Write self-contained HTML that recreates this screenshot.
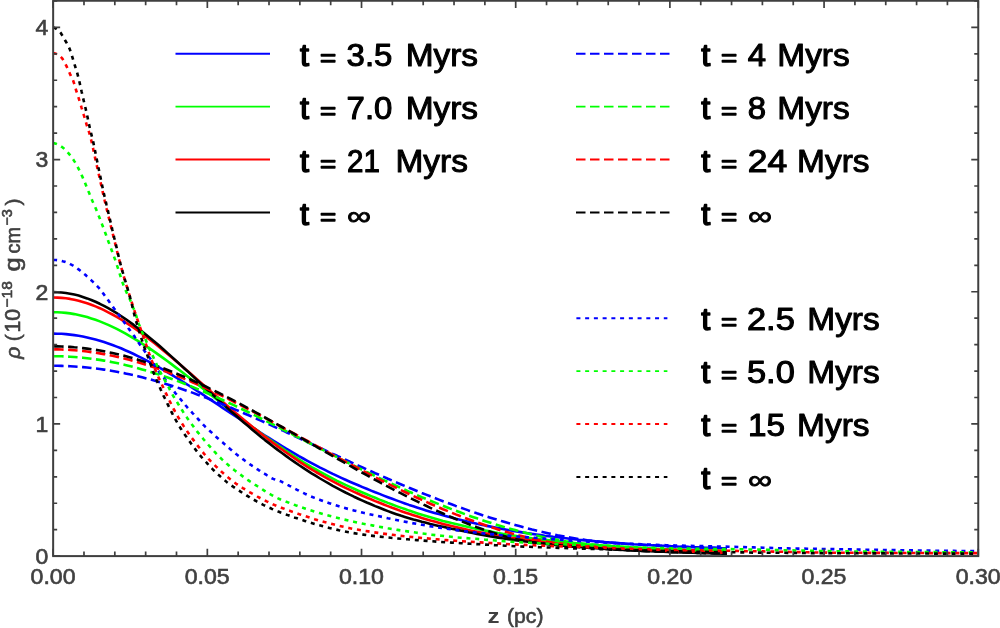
<!DOCTYPE html>
<html lang="en"><head><meta charset="utf-8"><title>Density profiles</title>
<style>html,body{margin:0;padding:0;background:#fff;}svg{display:block;}text{font-family:"Liberation Sans",sans-serif;}</style></head><body>
<svg width="1000" height="628" viewBox="0 0 1000 628">
<rect x="0" y="0" width="1000" height="628" fill="#ffffff"/>
<g fill="none" stroke-width="2.60" stroke-linejoin="round">
<path d="M53.1,333.6 L57.4,333.7 L61.6,333.8 L65.9,334.1 L70.1,334.6 L74.3,335.1 L78.6,335.8 L82.8,336.5 L87.1,337.4 L91.3,338.4 L95.5,339.5 L99.8,340.7 L104.0,342.1 L108.2,343.5 L112.5,345.0 L116.7,346.6 L121.0,348.3 L125.2,350.2 L129.4,352.0 L133.7,354.0 L137.9,356.1 L142.1,358.2 L146.4,360.4 L150.6,362.7 L154.9,365.0 L159.1,367.4 L163.3,369.8 L167.6,372.3 L171.8,374.9 L176.0,377.5 L180.3,380.1 L184.5,382.8 L188.8,385.5 L193.0,388.2 L197.2,391.0 L201.5,393.7 L205.7,396.5 L209.9,399.3 L214.2,402.1 L218.4,404.9 L222.7,407.8 L226.9,410.6 L231.1,413.4 L235.4,416.2 L239.6,419.0 L243.8,421.8 L248.1,424.6 L252.3,427.3 L256.6,430.1 L260.8,432.8 L265.0,435.5 L269.3,438.2 L273.5,440.8 L277.7,443.4 L282.0,446.0 L286.2,448.6 L290.5,451.1 L294.7,453.6 L298.9,456.1 L303.2,458.5 L307.4,460.8 L311.6,463.1 L315.9,465.4 L320.1,467.6 L324.4,469.7 L328.6,471.8 L332.8,473.9 L337.1,475.9 L341.3,477.9 L345.5,479.8 L349.8,481.7 L354.0,483.5 L358.3,485.3 L362.5,487.1 L366.7,488.8 L371.0,490.6 L375.2,492.3 L379.5,493.9 L383.7,495.6 L387.9,497.2 L392.2,498.8 L396.4,500.4 L400.6,501.9 L404.9,503.4 L409.1,504.9 L413.4,506.3 L417.6,507.7 L421.8,509.0 L426.1,510.4 L430.3,511.7 L434.5,512.9 L438.8,514.1 L443.0,515.3 L447.3,516.5 L451.5,517.6 L455.7,518.7 L460.0,519.8 L464.2,520.8 L468.4,521.8 L472.7,522.8 L476.9,523.8 L481.2,524.7 L485.4,525.6 L489.6,526.4 L493.9,527.3 L498.1,528.1 L502.3,528.9 L506.6,529.7 L510.8,530.4 L515.1,531.2 L519.3,531.9 L523.5,532.6 L527.8,533.2 L532.0,533.9 L536.2,534.5 L540.5,535.1 L544.7,535.7 L549.0,536.2 L553.2,536.8 L557.4,537.3 L561.7,537.8 L565.9,538.3 L570.1,538.8 L574.4,539.2 L578.6,539.7 L582.9,540.1 L587.1,540.5 L591.3,540.9 L595.6,541.3 L599.8,541.7 L604.0,542.1 L608.3,542.4 L612.5,542.8 L616.8,543.1 L621.0,543.4 L625.2,543.7 L629.5,544.0 L633.7,544.3 L637.9,544.5 L642.2,544.8 L646.4,545.0 L650.7,545.3 L654.9,545.5 L659.1,545.7 L663.4,545.9 L667.6,546.1 L671.8,546.3 L676.1,546.5 L680.3,546.7 L684.6,546.9 L688.8,547.1 L693.0,547.2 L697.3,547.4 L701.5,547.5 L705.8,547.7 L710.0,547.8 L714.2,547.9 L718.5,548.0 L722.7,548.2 L726.9,548.3" stroke="#0000ff"/>
<path d="M53.1,312.2 L57.4,312.3 L61.6,312.5 L65.9,312.9 L70.1,313.4 L74.3,314.1 L78.6,315.0 L82.8,316.0 L87.1,317.1 L91.3,318.4 L95.5,319.8 L99.8,321.4 L104.0,323.1 L108.2,324.9 L112.5,326.9 L116.7,328.9 L121.0,331.1 L125.2,333.4 L129.4,335.8 L133.7,338.3 L137.9,340.9 L142.1,343.6 L146.4,346.4 L150.6,349.2 L154.9,352.1 L159.1,355.1 L163.3,358.1 L167.6,361.2 L171.8,364.4 L176.0,367.6 L180.3,370.8 L184.5,374.1 L188.8,377.4 L193.0,380.7 L197.2,384.0 L201.5,387.4 L205.7,390.7 L209.9,394.1 L214.2,397.4 L218.4,400.8 L222.7,404.1 L226.9,407.4 L231.1,410.8 L235.4,414.0 L239.6,417.3 L243.8,420.6 L248.1,423.8 L252.3,427.0 L256.6,430.1 L260.8,433.2 L265.0,436.3 L269.3,439.3 L273.5,442.3 L277.7,445.3 L282.0,448.2 L286.2,451.0 L290.5,453.8 L294.7,456.6 L298.9,459.3 L303.2,462.0 L307.4,464.5 L311.6,467.1 L315.9,469.5 L320.1,471.9 L324.4,474.2 L328.6,476.4 L332.8,478.6 L337.1,480.8 L341.3,482.8 L345.5,484.9 L349.8,486.9 L354.0,488.8 L358.3,490.7 L362.5,492.5 L366.7,494.3 L371.0,496.1 L375.2,497.8 L379.5,499.6 L383.7,501.2 L387.9,502.9 L392.2,504.5 L396.4,506.1 L400.6,507.6 L404.9,509.1 L409.1,510.6 L413.4,512.0 L417.6,513.4 L421.8,514.7 L426.1,516.0 L430.3,517.3 L434.5,518.5 L438.8,519.7 L443.0,520.9 L447.3,522.0 L451.5,523.1 L455.7,524.1 L460.0,525.1 L464.2,526.1 L468.4,527.1 L472.7,528.0 L476.9,528.9 L481.2,529.8 L485.4,530.6 L489.6,531.4 L493.9,532.2 L498.1,533.0 L502.3,533.7 L506.6,534.5 L510.8,535.1 L515.1,535.8 L519.3,536.5 L523.5,537.1 L527.8,537.7 L532.0,538.3 L536.2,538.8 L540.5,539.4 L544.7,539.9 L549.0,540.4 L553.2,540.9 L557.4,541.4 L561.7,541.8 L565.9,542.3 L570.1,542.7 L574.4,543.1 L578.6,543.5 L582.9,543.9 L587.1,544.3 L591.3,544.6 L595.6,545.0 L599.8,545.3 L604.0,545.6 L608.3,545.9 L612.5,546.2 L616.8,546.5 L621.0,546.8 L625.2,547.1 L629.5,547.3 L633.7,547.6 L637.9,547.8 L642.2,548.0 L646.4,548.3 L650.7,548.5 L654.9,548.7 L659.1,548.9 L663.4,549.1 L667.6,549.2 L671.8,549.4 L676.1,549.6 L680.3,549.7 L684.6,549.9 L688.8,550.0 L693.0,550.2 L697.3,550.3 L701.5,550.5 L705.8,550.6 L710.0,550.7 L714.2,550.8 L718.5,550.9 L722.7,551.0 L726.9,551.1" stroke="#00ff00"/>
<path d="M53.1,297.5 L57.4,297.6 L61.6,297.9 L65.9,298.3 L70.1,298.9 L74.3,299.8 L78.6,300.7 L82.8,301.9 L87.1,303.2 L91.3,304.7 L95.5,306.4 L99.8,308.2 L104.0,310.2 L108.2,312.3 L112.5,314.5 L116.7,316.9 L121.0,319.4 L125.2,322.1 L129.4,324.8 L133.7,327.7 L137.9,330.7 L142.1,333.8 L146.4,336.9 L150.6,340.2 L154.9,343.5 L159.1,346.9 L163.3,350.4 L167.6,353.9 L171.8,357.4 L176.0,361.0 L180.3,364.7 L184.5,368.4 L188.8,372.1 L193.0,375.8 L197.2,379.5 L201.5,383.2 L205.7,387.0 L209.9,390.7 L214.2,394.4 L218.4,398.1 L222.7,401.8 L226.9,405.4 L231.1,409.1 L235.4,412.7 L239.6,416.3 L243.8,419.8 L248.1,423.3 L252.3,426.7 L256.6,430.1 L260.8,433.5 L265.0,436.8 L269.3,440.1 L273.5,443.3 L277.7,446.4 L282.0,449.5 L286.2,452.5 L290.5,455.5 L294.7,458.4 L298.9,461.3 L303.2,464.1 L307.4,466.8 L311.6,469.4 L315.9,472.0 L320.1,474.4 L324.4,476.8 L328.6,479.2 L332.8,481.4 L337.1,483.6 L341.3,485.8 L345.5,487.9 L349.8,489.9 L354.0,491.9 L358.3,493.8 L362.5,495.7 L366.7,497.5 L371.0,499.3 L375.2,501.1 L379.5,502.8 L383.7,504.5 L387.9,506.1 L392.2,507.8 L396.4,509.3 L400.6,510.9 L404.9,512.4 L409.1,513.8 L413.4,515.2 L417.6,516.6 L421.8,517.9 L426.1,519.2 L430.3,520.4 L434.5,521.6 L438.8,522.8 L443.0,523.9 L447.3,525.0 L451.5,526.1 L455.7,527.1 L460.0,528.1 L464.2,529.0 L468.4,530.0 L472.7,530.9 L476.9,531.7 L481.2,532.6 L485.4,533.4 L489.6,534.1 L493.9,534.9 L498.1,535.6 L502.3,536.3 L506.6,537.0 L510.8,537.7 L515.1,538.3 L519.3,538.9 L523.5,539.5 L527.8,540.1 L532.0,540.6 L536.2,541.2 L540.5,541.7 L544.7,542.2 L549.0,542.6 L553.2,543.1 L557.4,543.6 L561.7,544.0 L565.9,544.4 L570.1,544.8 L574.4,545.2 L578.6,545.6 L582.9,545.9 L587.1,546.3 L591.3,546.6 L595.6,546.9 L599.8,547.2 L604.0,547.5 L608.3,547.8 L612.5,548.1 L616.8,548.3 L621.0,548.6 L625.2,548.8 L629.5,549.1 L633.7,549.3 L637.9,549.5 L642.2,549.8 L646.4,550.0 L650.7,550.2 L654.9,550.3 L659.1,550.5 L663.4,550.7 L667.6,550.9 L671.8,551.0 L676.1,551.2 L680.3,551.3 L684.6,551.5 L688.8,551.6 L693.0,551.8 L697.3,551.9 L701.5,552.0 L705.8,552.1 L710.0,552.3 L714.2,552.4 L718.5,552.5 L722.7,552.6 L726.9,552.7" stroke="#ff0000"/>
<path d="M53.1,292.1 L57.4,292.2 L61.6,292.5 L65.9,293.0 L70.1,293.7 L74.3,294.6 L78.6,295.6 L82.8,296.9 L87.1,298.4 L91.3,300.0 L95.5,301.8 L99.8,303.8 L104.0,305.9 L108.2,308.2 L112.5,310.6 L116.7,313.2 L121.0,316.0 L125.2,318.8 L129.4,321.8 L133.7,324.9 L137.9,328.2 L142.1,331.5 L146.4,334.9 L150.6,338.4 L154.9,342.0 L159.1,345.6 L163.3,349.3 L167.6,353.1 L171.8,356.9 L176.0,360.7 L180.3,364.6 L184.5,368.5 L188.8,372.4 L193.0,376.4 L197.2,380.3 L201.5,384.2 L205.7,388.2 L209.9,392.1 L214.2,396.0 L218.4,399.9 L222.7,403.8 L226.9,407.6 L231.1,411.4 L235.4,415.1 L239.6,418.8 L243.8,422.5 L248.1,426.1 L252.3,429.7 L256.6,433.2 L260.8,436.7 L265.0,440.1 L269.3,443.4 L273.5,446.7 L277.7,449.9 L282.0,453.0 L286.2,456.1 L290.5,459.2 L294.7,462.1 L298.9,465.0 L303.2,467.8 L307.4,470.6 L311.6,473.3 L315.9,475.9 L320.1,478.5 L324.4,481.0 L328.6,483.4 L332.8,485.8 L337.1,488.1 L341.3,490.3 L345.5,492.5 L349.8,494.6 L354.0,496.7 L358.3,498.7 L362.5,500.6 L366.7,502.5 L371.0,504.3 L375.2,506.1 L379.5,507.8 L383.7,509.5 L387.9,511.1 L392.2,512.7 L396.4,514.2 L400.6,515.6 L404.9,516.9 L409.1,518.2 L413.4,519.5 L417.6,520.6 L421.8,521.8 L426.1,522.8 L430.3,523.9 L434.5,524.9 L438.8,525.9 L443.0,526.8 L447.3,527.7 L451.5,528.7 L455.7,529.6 L460.0,530.4 L464.2,531.3 L468.4,532.2 L472.7,533.0 L476.9,533.9 L481.2,534.7 L485.4,535.4 L489.6,536.2 L493.9,536.9 L498.1,537.6 L502.3,538.3 L506.6,538.9 L510.8,539.5 L515.1,540.1 L519.3,540.7 L523.5,541.3 L527.8,541.8 L532.0,542.3 L536.2,542.8 L540.5,543.3 L544.7,543.8 L549.0,544.2 L553.2,544.7 L557.4,545.1 L561.7,545.5 L565.9,545.9 L570.1,546.3 L574.4,546.6 L578.6,547.0 L582.9,547.3 L587.1,547.6 L591.3,547.9 L595.6,548.2 L599.8,548.5 L604.0,548.8 L608.3,549.1 L612.5,549.3 L616.8,549.6 L621.0,549.8 L625.2,550.1 L629.5,550.3 L633.7,550.5 L637.9,550.7 L642.2,550.9 L646.4,551.1 L650.7,551.3 L654.9,551.5 L659.1,551.6 L663.4,551.8 L667.6,552.0 L671.8,552.1 L676.1,552.3 L680.3,552.4 L684.6,552.5 L688.8,552.7 L693.0,552.8 L697.3,552.9 L701.5,553.0 L705.8,553.2 L710.0,553.3 L714.2,553.4 L718.5,553.5 L722.7,553.6 L726.9,553.7" stroke="#000000"/>
<path d="M53.1,365.8 L57.4,365.8 L61.6,365.9 L65.9,366.0 L70.1,366.2 L74.3,366.5 L78.6,366.8 L82.8,367.1 L87.1,367.5 L91.3,368.0 L95.5,368.5 L99.8,369.0 L104.0,369.6 L108.2,370.3 L112.5,371.0 L116.7,371.7 L121.0,372.6 L125.2,373.4 L129.4,374.3 L133.7,375.2 L137.9,376.2 L142.1,377.3 L146.4,378.4 L150.6,379.5 L154.9,380.7 L159.1,381.9 L163.3,383.1 L167.6,384.4 L171.8,385.7 L176.0,387.1 L180.3,388.5 L184.5,389.9 L188.8,391.4 L193.0,392.9 L197.2,394.5 L201.5,396.0 L205.7,397.6 L209.9,399.3 L214.2,400.9 L218.4,402.6 L222.7,404.3 L226.9,406.0 L231.1,407.8 L235.4,409.6 L239.6,411.4 L243.8,413.2 L248.1,415.0 L252.3,416.9 L256.6,418.7 L260.8,420.6 L265.0,422.5 L269.3,424.4 L273.5,426.4 L277.7,428.3 L282.0,430.2 L286.2,432.2 L290.5,434.1 L294.7,436.1 L298.9,438.1 L303.2,440.0 L307.4,442.0 L311.6,444.0 L315.9,446.0 L320.1,447.9 L324.4,449.9 L328.6,451.9 L332.8,453.9 L337.1,455.8 L341.3,457.8 L345.5,459.7 L349.8,461.7 L354.0,463.6 L358.3,465.6 L362.5,467.5 L366.7,469.4 L371.0,471.3 L375.2,473.2 L379.5,475.0 L383.7,476.9 L387.9,478.8 L392.2,480.6 L396.4,482.4 L400.6,484.2 L404.9,486.0 L409.1,487.8 L413.4,489.5 L417.6,491.3 L421.8,493.0 L426.1,494.6 L430.3,496.3 L434.5,497.9 L438.8,499.6 L443.0,501.2 L447.3,502.8 L451.5,504.3 L455.7,505.9 L460.0,507.4 L464.2,508.9 L468.4,510.4 L472.7,511.8 L476.9,513.3 L481.2,514.7 L485.4,516.1 L489.6,517.4 L493.9,518.7 L498.1,520.0 L502.3,521.3 L506.6,522.6 L510.8,523.8 L515.1,525.0 L519.3,526.1 L523.5,527.3 L527.8,528.4 L532.0,529.5 L536.2,530.5 L540.5,531.5 L544.7,532.5 L549.0,533.5 L553.2,534.4 L557.4,535.3 L561.7,536.1 L565.9,536.9 L570.1,537.6 L574.4,538.3 L578.6,539.0 L582.9,539.6 L587.1,540.2 L591.3,540.7 L595.6,541.1 L599.8,541.6 L604.0,542.0 L608.3,542.4 L612.5,542.7 L616.8,543.1 L621.0,543.4 L625.2,543.7 L629.5,544.0 L633.7,544.3 L637.9,544.5 L642.2,544.8 L646.4,545.0 L650.7,545.3 L654.9,545.5 L659.1,545.7 L663.4,545.9 L667.6,546.1 L671.8,546.3 L676.1,546.5 L680.3,546.7 L684.6,546.9 L688.8,547.1 L693.0,547.2 L697.3,547.4 L701.5,547.5 L705.8,547.7 L710.0,547.8 L714.2,547.9 L718.5,548.0 L722.7,548.2 L726.9,548.3" stroke="#0000ff" stroke-dasharray="9.5 4.5" stroke-dashoffset="-1"/>
<path d="M53.1,356.2 L57.4,356.2 L61.6,356.3 L65.9,356.5 L70.1,356.7 L74.3,357.0 L78.6,357.3 L82.8,357.7 L87.1,358.2 L91.3,358.7 L95.5,359.3 L99.8,359.9 L104.0,360.6 L108.2,361.3 L112.5,362.2 L116.7,363.0 L121.0,363.9 L125.2,364.9 L129.4,365.9 L133.7,367.0 L137.9,368.2 L142.1,369.4 L146.4,370.6 L150.6,371.9 L154.9,373.2 L159.1,374.6 L163.3,376.0 L167.6,377.5 L171.8,379.0 L176.0,380.5 L180.3,382.1 L184.5,383.8 L188.8,385.4 L193.0,387.1 L197.2,388.9 L201.5,390.7 L205.7,392.5 L209.9,394.3 L214.2,396.2 L218.4,398.1 L222.7,400.0 L226.9,402.0 L231.1,403.9 L235.4,405.9 L239.6,408.0 L243.8,410.0 L248.1,412.0 L252.3,414.1 L256.6,416.2 L260.8,418.3 L265.0,420.4 L269.3,422.6 L273.5,424.7 L277.7,426.9 L282.0,429.0 L286.2,431.2 L290.5,433.3 L294.7,435.5 L298.9,437.7 L303.2,439.9 L307.4,442.1 L311.6,444.2 L315.9,446.4 L320.1,448.6 L324.4,450.7 L328.6,452.9 L332.8,455.1 L337.1,457.2 L341.3,459.3 L345.5,461.5 L349.8,463.6 L354.0,465.7 L358.3,467.8 L362.5,469.9 L366.7,472.0 L371.0,474.0 L375.2,476.0 L379.5,478.1 L383.7,480.1 L387.9,482.0 L392.2,484.0 L396.4,486.0 L400.6,487.9 L404.9,489.8 L409.1,491.7 L413.4,493.5 L417.6,495.4 L421.8,497.2 L426.1,498.9 L430.3,500.7 L434.5,502.4 L438.8,504.1 L443.0,505.8 L447.3,507.5 L451.5,509.1 L455.7,510.7 L460.0,512.3 L464.2,513.9 L468.4,515.4 L472.7,516.9 L476.9,518.3 L481.2,519.8 L485.4,521.2 L489.6,522.5 L493.9,523.9 L498.1,525.2 L502.3,526.4 L506.6,527.7 L510.8,528.9 L515.1,530.1 L519.3,531.2 L523.5,532.3 L527.8,533.4 L532.0,534.5 L536.2,535.5 L540.5,536.4 L544.7,537.4 L549.0,538.3 L553.2,539.1 L557.4,539.9 L561.7,540.7 L565.9,541.4 L570.1,542.0 L574.4,542.6 L578.6,543.2 L582.9,543.7 L587.1,544.1 L591.3,544.5 L595.6,544.9 L599.8,545.3 L604.0,545.6 L608.3,545.9 L612.5,546.2 L616.8,546.5 L621.0,546.8 L625.2,547.1 L629.5,547.3 L633.7,547.6 L637.9,547.8 L642.2,548.0 L646.4,548.3 L650.7,548.5 L654.9,548.7 L659.1,548.9 L663.4,549.1 L667.6,549.2 L671.8,549.4 L676.1,549.6 L680.3,549.7 L684.6,549.9 L688.8,550.0 L693.0,550.2 L697.3,550.3 L701.5,550.5 L705.8,550.6 L710.0,550.7 L714.2,550.8 L718.5,550.9 L722.7,551.0 L726.9,551.1" stroke="#00ff00" stroke-dasharray="9.5 4.5" stroke-dashoffset="-1"/>
<path d="M53.1,349.4 L57.4,349.4 L61.6,349.5 L65.9,349.7 L70.1,349.9 L74.3,350.2 L78.6,350.6 L82.8,351.0 L87.1,351.5 L91.3,352.1 L95.5,352.7 L99.8,353.4 L104.0,354.1 L108.2,354.9 L112.5,355.8 L116.7,356.7 L121.0,357.7 L125.2,358.7 L129.4,359.8 L133.7,361.0 L137.9,362.2 L142.1,363.5 L146.4,364.8 L150.6,366.2 L154.9,367.6 L159.1,369.1 L163.3,370.6 L167.6,372.1 L171.8,373.8 L176.0,375.4 L180.3,377.1 L184.5,378.9 L188.8,380.6 L193.0,382.5 L197.2,384.3 L201.5,386.2 L205.7,388.1 L209.9,390.1 L214.2,392.1 L218.4,394.1 L222.7,396.2 L226.9,398.2 L231.1,400.3 L235.4,402.5 L239.6,404.6 L243.8,406.8 L248.1,409.0 L252.3,411.2 L256.6,413.4 L260.8,415.7 L265.0,417.9 L269.3,420.2 L273.5,422.5 L277.7,424.8 L282.0,427.1 L286.2,429.4 L290.5,431.7 L294.7,434.0 L298.9,436.3 L303.2,438.6 L307.4,441.0 L311.6,443.3 L315.9,445.6 L320.1,447.9 L324.4,450.2 L328.6,452.6 L332.8,454.9 L337.1,457.2 L341.3,459.4 L345.5,461.7 L349.8,464.0 L354.0,466.2 L358.3,468.5 L362.5,470.7 L366.7,472.9 L371.0,475.1 L375.2,477.3 L379.5,479.5 L383.7,481.6 L387.9,483.7 L392.2,485.8 L396.4,487.9 L400.6,490.0 L404.9,492.0 L409.1,494.0 L413.4,496.0 L417.6,498.0 L421.8,499.9 L426.1,501.8 L430.3,503.7 L434.5,505.5 L438.8,507.4 L443.0,509.2 L447.3,510.9 L451.5,512.7 L455.7,514.4 L460.0,516.0 L464.2,517.7 L468.4,519.3 L472.7,520.8 L476.9,522.4 L481.2,523.8 L485.4,525.3 L489.6,526.7 L493.9,528.1 L498.1,529.4 L502.3,530.8 L506.6,532.0 L510.8,533.2 L515.1,534.4 L519.3,535.6 L523.5,536.6 L527.8,537.7 L532.0,538.7 L536.2,539.6 L540.5,540.5 L544.7,541.3 L549.0,542.0 L553.2,542.7 L557.4,543.3 L561.7,543.8 L565.9,544.3 L570.1,544.7 L574.4,545.1 L578.6,545.5 L582.9,545.9 L587.1,546.3 L591.3,546.6 L595.6,546.9 L599.8,547.2 L604.0,547.5 L608.3,547.8 L612.5,548.1 L616.8,548.3 L621.0,548.6 L625.2,548.8 L629.5,549.1 L633.7,549.3 L637.9,549.5 L642.2,549.8 L646.4,550.0 L650.7,550.2 L654.9,550.3 L659.1,550.5 L663.4,550.7 L667.6,550.9 L671.8,551.0 L676.1,551.2 L680.3,551.3 L684.6,551.5 L688.8,551.6 L693.0,551.8 L697.3,551.9 L701.5,552.0 L705.8,552.1 L710.0,552.3 L714.2,552.4 L718.5,552.5 L722.7,552.6 L726.9,552.7" stroke="#ff0000" stroke-dasharray="9.5 4.5" stroke-dashoffset="-1"/>
<path d="M53.1,346.4 L57.4,346.4 L61.6,346.5 L65.9,346.7 L70.1,346.9 L74.3,347.3 L78.6,347.6 L82.8,348.1 L87.1,348.6 L91.3,349.2 L95.5,349.8 L99.8,350.5 L104.0,351.3 L108.2,352.1 L112.5,353.0 L116.7,354.0 L121.0,355.0 L125.2,356.1 L129.4,357.2 L133.7,358.4 L137.9,359.7 L142.1,361.0 L146.4,362.3 L150.6,363.8 L154.9,365.2 L159.1,366.8 L163.3,368.3 L167.6,370.0 L171.8,371.6 L176.0,373.4 L180.3,375.1 L184.5,376.9 L188.8,378.8 L193.0,380.7 L197.2,382.6 L201.5,384.5 L205.7,386.5 L209.9,388.6 L214.2,390.6 L218.4,392.7 L222.7,394.9 L226.9,397.0 L231.1,399.2 L235.4,401.4 L239.6,403.6 L243.8,405.9 L248.1,408.2 L252.3,410.5 L256.6,412.8 L260.8,415.1 L265.0,417.5 L269.3,419.8 L273.5,422.2 L277.7,424.6 L282.0,427.0 L286.2,429.4 L290.5,431.8 L294.7,434.2 L298.9,436.7 L303.2,439.1 L307.4,441.5 L311.6,444.0 L315.9,446.4 L320.1,448.8 L324.4,451.3 L328.6,453.7 L332.8,456.1 L337.1,458.5 L341.3,460.9 L345.5,463.3 L349.8,465.7 L354.0,468.1 L358.3,470.5 L362.5,472.8 L366.7,475.2 L371.0,477.5 L375.2,479.8 L379.5,482.1 L383.7,484.4 L387.9,486.6 L392.2,488.8 L396.4,491.1 L400.6,493.2 L404.9,495.4 L409.1,497.5 L413.4,499.6 L417.6,501.7 L421.8,503.8 L426.1,505.8 L430.3,507.8 L434.5,509.7 L438.8,511.6 L443.0,513.5 L447.3,515.4 L451.5,517.2 L455.7,519.0 L460.0,520.7 L464.2,522.4 L468.4,524.0 L472.7,525.6 L476.9,527.2 L481.2,528.7 L485.4,530.2 L489.6,531.6 L493.9,533.0 L498.1,534.3 L502.3,535.5 L506.6,536.7 L510.8,537.8 L515.1,538.9 L519.3,539.8 L523.5,540.7 L527.8,541.4 L532.0,542.1 L536.2,542.7 L540.5,543.2 L544.7,543.7 L549.0,544.2 L553.2,544.7 L557.4,545.1 L561.7,545.5 L565.9,545.9 L570.1,546.3 L574.4,546.6 L578.6,547.0 L582.9,547.3 L587.1,547.6 L591.3,547.9 L595.6,548.2 L599.8,548.5 L604.0,548.8 L608.3,549.1 L612.5,549.3 L616.8,549.6 L621.0,549.8 L625.2,550.1 L629.5,550.3 L633.7,550.5 L637.9,550.7 L642.2,550.9 L646.4,551.1 L650.7,551.3 L654.9,551.5 L659.1,551.6 L663.4,551.8 L667.6,552.0 L671.8,552.1 L676.1,552.3 L680.3,552.4 L684.6,552.5 L688.8,552.7 L693.0,552.8 L697.3,552.9 L701.5,553.0 L705.8,553.2 L710.0,553.3 L714.2,553.4 L718.5,553.5 L722.7,553.6 L726.9,553.7" stroke="#000000" stroke-dasharray="9.5 4.5" stroke-dashoffset="-1"/>
<path d="M53.1,260.0 L54.1,260.0 L55.1,260.0 L56.0,260.0 L57.0,260.1 L57.9,260.2 L58.9,260.3 L59.8,260.5 L60.8,260.7 L61.7,260.9 L62.7,261.2 L63.6,261.4 L64.6,261.7 L65.5,262.0 L66.5,262.4 L67.4,262.8 L68.4,263.2 L69.4,263.7 L70.3,264.2 L71.3,264.7 L72.2,265.2 L73.2,265.7 L74.1,266.3 L75.1,266.9 L76.0,267.6 L77.0,268.2 L77.9,268.9 L78.9,269.6 L79.8,270.3 L80.8,271.1 L81.7,271.8 L82.7,272.6 L83.6,273.4 L84.6,274.2 L85.6,275.0 L86.5,275.9 L87.5,276.7 L88.4,277.6 L89.4,278.5 L90.3,279.4 L91.3,280.3 L92.2,281.2 L93.2,282.2 L94.1,283.1 L95.1,284.0 L96.0,284.9 L97.0,285.9 L97.9,286.9 L98.9,287.9 L99.9,289.1 L100.8,290.3 L101.8,291.5 L102.7,292.8 L103.7,294.1 L104.6,295.4 L105.6,296.7 L106.5,298.0 L107.5,299.3 L108.4,300.6 L109.4,302.0 L110.3,303.3 L111.3,304.6 L112.2,305.9 L113.2,307.3 L114.1,308.6 L115.1,309.9 L116.1,311.2 L117.0,312.6 L118.0,313.9 L118.9,315.2 L119.9,316.5 L120.8,317.7 L121.8,319.0 L122.7,320.3 L123.7,321.6 L124.6,322.9 L125.6,324.2 L126.5,325.6 L127.5,326.9 L128.4,328.3 L129.4,329.6 L130.4,330.9 L131.3,332.2 L132.3,333.5 L133.2,334.7 L134.2,336.0 L135.1,337.4 L136.1,338.8 L137.0,340.3 L138.0,341.7 L138.9,343.2 L139.9,344.5 L140.8,345.9 L141.8,347.2 L142.7,348.5 L143.7,349.8 L144.6,351.1 L145.6,352.3 L146.6,353.6 L147.5,354.8 L148.5,356.1 L149.4,357.5 L150.4,358.8 L151.3,360.2 L152.3,361.6 L153.2,363.1 L154.2,364.5 L155.1,366.0 L156.1,367.4 L157.0,368.8 L158.0,370.2 L158.9,371.5 L159.9,372.9 L160.8,374.1 L161.8,375.4 L162.8,376.6 L163.7,377.7 L164.7,378.9 L165.6,380.1 L166.6,381.4 L167.5,382.6 L168.5,383.8 L169.4,385.1 L170.4,386.3 L171.3,387.6 L172.3,388.9 L173.2,390.2 L174.2,391.5 L175.1,392.8 L176.1,394.0 L177.1,395.2 L178.0,396.3 L179.0,397.4 L179.9,398.5 L180.9,399.6 L181.8,400.7 L182.8,401.9 L183.7,403.1 L184.7,404.3 L185.6,405.4 L186.6,406.5 L187.5,407.6 L188.5,408.7 L189.4,409.7 L190.4,410.7 L191.3,411.7 L192.3,412.8 L193.3,413.8 L194.2,414.8 L195.2,415.9 L196.1,416.9 L197.1,417.9 L198.0,419.0 L199.0,420.0 L199.9,421.1 L200.9,422.1 L201.8,423.2 L202.8,424.2 L203.7,425.2 L204.7,426.2 L205.6,427.1 L206.6,428.0 L207.6,428.9 L208.5,429.7 L209.5,430.6 L210.4,431.5 L211.4,432.3 L212.3,433.2 L213.3,434.1 L214.2,435.0 L215.2,435.9 L216.1,436.8 L217.1,437.7 L218.0,438.5 L219.0,439.4 L219.9,440.2 L220.9,441.0 L221.8,441.8 L222.8,442.6 L223.8,443.5 L224.7,444.3 L225.7,445.1 L226.6,445.9 L227.6,446.8 L228.5,447.6 L229.5,448.4 L230.4,449.2 L231.4,450.0 L232.3,450.8 L233.3,451.6 L234.2,452.4 L235.2,453.2 L236.1,454.0 L237.1,454.7 L238.0,455.5 L239.0,456.2 L240.0,456.9 L240.9,457.7 L241.9,458.4 L242.8,459.1 L243.8,459.8 L244.7,460.5 L245.7,461.2 L246.6,461.9 L247.6,462.6 L248.5,463.2 L249.5,463.9 L250.4,464.6 L251.4,465.2 L252.3,465.9 L253.3,466.5 L254.3,467.2 L255.2,467.8 L256.2,468.5 L257.1,469.1 L258.1,469.7 L259.0,470.3 L260.0,470.9 L260.9,471.5 L261.9,472.1 L262.8,472.7 L263.8,473.3 L264.7,473.8 L265.7,474.4 L266.6,475.0 L267.6,475.6 L268.5,476.2 L269.5,476.8 L270.5,477.4 L271.4,478.0 L272.4,478.5 L273.3,478.9 L274.3,479.3 L275.2,479.5 L276.2,479.8 L277.1,480.0 L278.1,480.3 L279.0,480.6 L280.0,481.0 L280.9,481.4 L281.9,481.9 L282.8,482.4 L283.8,482.9 L284.8,483.4 L285.7,483.9 L286.7,484.4 L287.6,484.9 L288.6,485.4 L289.5,485.9 L290.5,486.4 L291.4,486.9 L292.4,487.3 L293.3,487.8 L294.3,488.3 L295.2,488.8 L296.2,489.3 L297.1,489.8 L298.1,490.3 L299.0,490.8 L300.0,491.3 L304.9,493.7 L309.8,495.9 L314.6,497.9 L319.5,499.7 L324.4,501.5 L329.3,503.2 L334.2,504.8 L339.0,506.3 L343.9,507.8 L348.8,509.1 L353.7,510.4 L358.6,511.6 L363.4,512.8 L368.3,513.9 L373.2,515.0 L378.1,516.1 L383.0,517.1 L387.8,518.2 L392.7,519.2 L397.6,520.2 L402.5,521.2 L407.3,522.1 L412.2,523.1 L417.1,524.0 L422.0,524.8 L426.9,525.7 L431.7,526.5 L436.6,527.3 L441.5,528.0 L446.4,528.7 L451.3,529.4 L456.1,530.1 L461.0,530.8 L465.9,531.4 L470.8,532.0 L475.7,532.5 L480.5,533.1 L485.4,533.6 L490.3,534.1 L495.2,534.5 L500.1,535.0 L504.9,535.4 L509.8,535.9 L514.7,536.3 L519.6,536.7 L524.5,537.1 L529.3,537.4 L534.2,537.8 L539.1,538.2 L544.0,538.6 L548.9,539.0 L553.7,539.3 L558.6,539.7 L563.5,540.0 L568.4,540.4 L573.3,540.7 L578.1,541.0 L583.0,541.3 L587.9,541.6 L592.8,541.9 L597.6,542.2 L602.5,542.4 L607.4,542.7 L612.3,542.9 L617.2,543.2 L622.0,543.4 L626.9,543.6 L631.8,543.8 L636.7,544.1 L641.6,544.3 L646.4,544.5 L651.3,544.6 L656.2,544.8 L661.1,545.0 L666.0,545.2 L670.8,545.3 L675.7,545.5 L680.6,545.6 L685.5,545.7 L690.4,545.9 L695.2,546.0 L700.1,546.1 L705.0,546.2 L709.9,546.3 L714.8,546.4 L719.6,546.5 L724.5,546.6 L729.4,546.7 L734.3,546.9 L739.2,547.0 L744.0,547.1 L748.9,547.3 L753.8,547.4 L758.7,547.6 L763.6,547.7 L768.4,547.9 L773.3,548.0 L778.2,548.2 L783.1,548.3 L787.9,548.4 L792.8,548.5 L797.7,548.6 L802.6,548.6 L807.5,548.7 L812.3,548.8 L817.2,548.9 L822.1,549.0 L827.0,549.0 L831.9,549.1 L836.7,549.2 L841.6,549.3 L846.5,549.3 L851.4,549.4 L856.3,549.5 L861.1,549.6 L866.0,549.7 L870.9,549.7 L875.8,549.8 L880.7,549.9 L885.5,550.0 L890.4,550.1 L895.3,550.1 L900.2,550.2 L905.1,550.3 L909.9,550.4 L914.8,550.4 L919.7,550.5 L924.6,550.6 L929.5,550.6 L934.3,550.7 L939.2,550.8 L944.1,550.8 L949.0,550.9 L953.9,550.9 L958.7,551.0 L963.6,551.0 L968.5,551.1 L973.4,551.1 L978.2,551.2" stroke="#0000ff" stroke-dasharray="4 4.737"/>
<path d="M53.1,143.0 L54.1,143.2 L55.1,143.5 L56.0,143.8 L57.0,144.2 L57.9,144.6 L58.9,145.1 L59.8,145.7 L60.8,146.2 L61.7,146.8 L62.7,147.5 L63.6,148.2 L64.6,149.1 L65.5,150.0 L66.5,151.0 L67.4,152.1 L68.4,153.2 L69.4,154.3 L70.3,155.5 L71.3,156.7 L72.2,158.0 L73.2,159.4 L74.1,160.9 L75.1,162.4 L76.0,164.0 L77.0,165.6 L77.9,167.4 L78.9,169.3 L79.8,171.2 L80.8,173.3 L81.7,175.3 L82.7,177.4 L83.6,179.7 L84.6,182.0 L85.6,184.3 L86.5,186.7 L87.5,189.0 L88.4,191.3 L89.4,193.6 L90.3,195.9 L91.3,198.2 L92.2,200.5 L93.2,202.7 L94.1,204.8 L95.1,206.9 L96.0,209.1 L97.0,211.4 L97.9,213.8 L98.9,216.2 L99.9,218.7 L100.8,221.2 L101.8,223.6 L102.7,226.1 L103.7,228.6 L104.6,231.1 L105.6,233.7 L106.5,236.2 L107.5,238.9 L108.4,241.5 L109.4,244.1 L110.3,246.7 L111.3,249.2 L112.2,251.7 L113.2,254.3 L114.1,256.9 L115.1,259.6 L116.1,262.4 L117.0,265.4 L118.0,268.4 L118.9,271.4 L119.9,274.4 L120.8,277.4 L121.8,280.3 L122.7,283.0 L123.7,285.7 L124.6,288.1 L125.6,290.3 L126.5,292.3 L127.5,294.2 L128.4,296.1 L129.4,298.2 L130.4,300.6 L131.3,303.0 L132.3,305.4 L133.2,307.7 L134.2,310.0 L135.1,312.5 L136.1,315.4 L137.0,318.5 L138.0,321.5 L138.9,324.1 L139.9,326.7 L140.8,329.1 L141.8,331.3 L142.7,333.4 L143.7,335.4 L144.6,337.4 L145.6,339.7 L146.6,342.1 L147.5,344.4 L148.5,346.7 L149.4,348.8 L150.4,350.8 L151.3,352.8 L152.3,354.9 L153.2,356.9 L154.2,359.0 L155.1,361.1 L156.1,363.2 L157.0,365.3 L158.0,367.3 L158.9,369.3 L159.9,371.3 L160.8,373.2 L161.8,375.0 L162.8,376.8 L163.7,378.5 L164.7,380.2 L165.6,381.8 L166.6,383.5 L167.5,385.1 L168.5,386.9 L169.4,388.8 L170.4,390.7 L171.3,392.6 L172.3,394.3 L173.2,395.9 L174.2,397.5 L175.1,399.0 L176.1,400.5 L177.1,402.1 L178.0,403.7 L179.0,405.2 L179.9,406.8 L180.9,408.3 L181.8,409.8 L182.8,411.3 L183.7,412.8 L184.7,414.3 L185.6,415.7 L186.6,417.1 L187.5,418.4 L188.5,419.8 L189.4,421.1 L190.4,422.4 L191.3,423.7 L192.3,425.0 L193.3,426.3 L194.2,427.6 L195.2,428.9 L196.1,430.1 L197.1,431.4 L198.0,432.6 L199.0,433.7 L199.9,434.9 L200.9,436.1 L201.8,437.2 L202.8,438.3 L203.7,439.5 L204.7,440.6 L205.6,441.7 L206.6,442.8 L207.6,443.9 L208.5,445.0 L209.5,446.1 L210.4,447.1 L211.4,448.2 L212.3,449.2 L213.3,450.3 L214.2,451.4 L215.2,452.4 L216.1,453.5 L217.1,454.5 L218.0,455.5 L219.0,456.5 L219.9,457.4 L220.9,458.3 L221.8,459.2 L222.8,460.1 L223.8,460.9 L224.7,461.8 L225.7,462.6 L226.6,463.5 L227.6,464.4 L228.5,465.2 L229.5,466.1 L230.4,466.9 L231.4,467.7 L232.3,468.5 L233.3,469.2 L234.2,470.0 L235.2,470.7 L236.1,471.4 L237.1,472.1 L238.0,472.8 L239.0,473.5 L240.0,474.2 L240.9,474.9 L241.9,475.7 L242.8,476.4 L243.8,477.1 L244.7,477.8 L245.7,478.5 L246.6,479.1 L247.6,479.8 L248.5,480.4 L249.5,481.1 L250.4,481.7 L251.4,482.3 L252.3,483.0 L253.3,483.6 L254.3,484.2 L255.2,484.8 L256.2,485.4 L257.1,486.0 L258.1,486.6 L259.0,487.2 L260.0,487.9 L260.9,488.5 L261.9,489.1 L262.8,489.7 L263.8,490.3 L264.7,490.9 L265.7,491.5 L266.6,492.1 L267.6,492.7 L268.5,493.3 L269.5,493.8 L270.5,494.4 L271.4,494.9 L272.4,495.5 L273.3,496.0 L274.3,496.5 L275.2,497.0 L276.2,497.5 L277.1,497.9 L278.1,498.4 L279.0,498.8 L280.0,499.2 L280.9,499.6 L281.9,500.0 L282.8,500.4 L283.8,500.8 L284.8,501.1 L285.7,501.5 L286.7,501.9 L287.6,502.3 L288.6,502.6 L289.5,503.0 L290.5,503.4 L291.4,503.7 L292.4,504.1 L293.3,504.4 L294.3,504.8 L295.2,505.1 L296.2,505.5 L297.1,505.8 L298.1,506.2 L299.0,506.5 L300.0,506.8 L304.9,508.5 L309.8,510.1 L314.6,511.6 L319.5,513.1 L324.4,514.5 L329.3,515.8 L334.2,517.1 L339.0,518.3 L343.9,519.5 L348.8,520.6 L353.7,521.7 L358.6,522.8 L363.4,523.8 L368.3,524.7 L373.2,525.6 L378.1,526.6 L383.0,527.4 L387.8,528.3 L392.7,529.1 L397.6,529.9 L402.5,530.7 L407.3,531.4 L412.2,532.1 L417.1,532.8 L422.0,533.5 L426.9,534.1 L431.7,534.7 L436.6,535.3 L441.5,535.8 L446.4,536.3 L451.3,536.8 L456.1,537.3 L461.0,537.7 L465.9,538.1 L470.8,538.5 L475.7,538.8 L480.5,539.2 L485.4,539.7 L490.3,540.1 L495.2,540.5 L500.1,540.9 L504.9,541.3 L509.8,541.7 L514.7,542.0 L519.6,542.3 L524.5,542.5 L529.3,542.8 L534.2,543.0 L539.1,543.3 L544.0,543.5 L548.9,543.7 L553.7,543.9 L558.6,544.1 L563.5,544.3 L568.4,544.5 L573.3,544.7 L578.1,544.9 L583.0,545.0 L587.9,545.2 L592.8,545.4 L597.6,545.6 L602.5,545.8 L607.4,546.0 L612.3,546.2 L617.2,546.4 L622.0,546.6 L626.9,546.8 L631.8,547.0 L636.7,547.2 L641.6,547.4 L646.4,547.6 L651.3,547.8 L656.2,547.9 L661.1,548.1 L666.0,548.2 L670.8,548.3 L675.7,548.4 L680.6,548.5 L685.5,548.6 L690.4,548.6 L695.2,548.7 L700.1,548.8 L705.0,548.8 L709.9,548.9 L714.8,549.0 L719.6,549.0 L724.5,549.1 L729.4,549.1 L734.3,549.2 L739.2,549.3 L744.0,549.4 L748.9,549.5 L753.8,549.5 L758.7,549.6 L763.6,549.7 L768.4,549.8 L773.3,549.9 L778.2,550.1 L783.1,550.2 L787.9,550.3 L792.8,550.4 L797.7,550.5 L802.6,550.6 L807.5,550.7 L812.3,550.8 L817.2,550.9 L822.1,551.0 L827.0,551.1 L831.9,551.2 L836.7,551.2 L841.6,551.3 L846.5,551.4 L851.4,551.4 L856.3,551.5 L861.1,551.5 L866.0,551.6 L870.9,551.6 L875.8,551.7 L880.7,551.7 L885.5,551.8 L890.4,551.8 L895.3,551.8 L900.2,551.9 L905.1,551.9 L909.9,552.0 L914.8,552.0 L919.7,552.1 L924.6,552.1 L929.5,552.1 L934.3,552.1 L939.2,552.2 L944.1,552.2 L949.0,552.2 L953.9,552.2 L958.7,552.3 L963.6,552.3 L968.5,552.3 L973.4,552.3 L978.2,552.3" stroke="#00ff00" stroke-dasharray="4 4.818"/>
<path d="M53.1,53.1 L54.1,53.2 L55.1,53.4 L56.0,53.8 L57.0,54.2 L57.9,54.8 L58.9,55.5 L59.8,56.2 L60.8,56.9 L61.7,57.8 L62.7,59.1 L63.6,60.7 L64.6,62.4 L65.5,64.2 L66.5,66.1 L67.4,68.1 L68.4,70.3 L69.4,72.5 L70.3,74.7 L71.3,76.7 L72.2,78.6 L73.2,80.8 L74.1,83.4 L75.1,86.7 L76.0,90.0 L77.0,92.9 L77.9,95.8 L78.9,98.8 L79.8,101.8 L80.8,105.0 L81.7,108.1 L82.7,111.2 L83.6,114.4 L84.6,117.6 L85.6,121.0 L86.5,124.3 L87.5,127.3 L88.4,130.1 L89.4,133.2 L90.3,136.7 L91.3,140.5 L92.2,144.5 L93.2,149.0 L94.1,153.5 L95.1,157.9 L96.0,162.2 L97.0,166.4 L97.9,170.6 L98.9,174.8 L99.9,179.0 L100.8,183.3 L101.8,187.7 L102.7,191.9 L103.7,196.1 L104.6,200.2 L105.6,204.2 L106.5,208.2 L107.5,212.2 L108.4,216.1 L109.4,219.9 L110.3,223.8 L111.3,227.7 L112.2,231.5 L113.2,235.4 L114.1,239.2 L115.1,243.1 L116.1,247.0 L117.0,251.0 L118.0,254.9 L118.9,258.8 L119.9,262.4 L120.8,265.9 L121.8,269.4 L122.7,272.7 L123.7,276.0 L124.6,279.3 L125.6,282.5 L126.5,285.6 L127.5,288.8 L128.4,291.9 L129.4,294.9 L130.4,298.0 L131.3,301.0 L132.3,304.0 L133.2,307.0 L134.2,309.9 L135.1,312.8 L136.1,315.6 L137.0,318.5 L138.0,321.3 L138.9,324.0 L139.9,326.8 L140.8,329.4 L141.8,332.1 L142.7,334.8 L143.7,337.6 L144.6,340.4 L145.6,343.2 L146.6,346.1 L147.5,348.9 L148.5,351.6 L149.4,354.2 L150.4,356.8 L151.3,359.4 L152.3,361.9 L153.2,364.4 L154.2,366.9 L155.1,369.3 L156.1,371.6 L157.0,373.9 L158.0,376.1 L158.9,378.2 L159.9,380.2 L160.8,382.2 L161.8,384.3 L162.8,386.5 L163.7,388.6 L164.7,390.7 L165.6,392.7 L166.6,394.7 L167.5,396.6 L168.5,398.5 L169.4,400.5 L170.4,402.5 L171.3,404.5 L172.3,406.4 L173.2,408.2 L174.2,410.0 L175.1,411.7 L176.1,413.4 L177.1,415.1 L178.0,416.8 L179.0,418.5 L179.9,420.2 L180.9,421.8 L181.8,423.3 L182.8,424.7 L183.7,426.2 L184.7,427.6 L185.6,428.9 L186.6,430.4 L187.5,431.8 L188.5,433.2 L189.4,434.6 L190.4,435.9 L191.3,437.3 L192.3,438.6 L193.3,439.9 L194.2,441.1 L195.2,442.4 L196.1,443.6 L197.1,444.9 L198.0,446.1 L199.0,447.3 L199.9,448.5 L200.9,449.7 L201.8,450.9 L202.8,452.1 L203.7,453.3 L204.7,454.5 L205.6,455.6 L206.6,456.7 L207.6,457.8 L208.5,458.9 L209.5,459.9 L210.4,460.9 L211.4,461.8 L212.3,462.8 L213.3,463.8 L214.2,464.7 L215.2,465.7 L216.1,466.6 L217.1,467.5 L218.0,468.4 L219.0,469.3 L219.9,470.2 L220.9,471.1 L221.8,472.0 L222.8,472.8 L223.8,473.7 L224.7,474.5 L225.7,475.4 L226.6,476.2 L227.6,477.0 L228.5,477.8 L229.5,478.6 L230.4,479.4 L231.4,480.1 L232.3,480.9 L233.3,481.6 L234.2,482.3 L235.2,483.0 L236.1,483.7 L237.1,484.4 L238.0,485.1 L239.0,485.7 L240.0,486.3 L240.9,486.9 L241.9,487.5 L242.8,488.1 L243.8,488.6 L244.7,489.2 L245.7,489.8 L246.6,490.4 L247.6,490.9 L248.5,491.5 L249.5,492.1 L250.4,492.6 L251.4,493.2 L252.3,493.7 L253.3,494.3 L254.3,494.8 L255.2,495.4 L256.2,495.9 L257.1,496.4 L258.1,496.9 L259.0,497.5 L260.0,498.0 L260.9,498.5 L261.9,499.0 L262.8,499.5 L263.8,499.9 L264.7,500.4 L265.7,500.9 L266.6,501.4 L267.6,501.8 L268.5,502.3 L269.5,502.7 L270.5,503.2 L271.4,503.6 L272.4,504.0 L273.3,504.5 L274.3,504.9 L275.2,505.3 L276.2,505.7 L277.1,506.1 L278.1,506.5 L279.0,506.8 L280.0,507.2 L280.9,507.6 L281.9,507.9 L282.8,508.3 L283.8,508.6 L284.8,509.0 L285.7,509.3 L286.7,509.7 L287.6,510.0 L288.6,510.4 L289.5,510.7 L290.5,511.1 L291.4,511.4 L292.4,511.8 L293.3,512.1 L294.3,512.4 L295.2,512.8 L296.2,513.1 L297.1,513.4 L298.1,513.8 L299.0,514.1 L300.0,514.4 L304.9,516.1 L309.8,517.6 L314.6,519.2 L319.5,520.6 L324.4,522.0 L329.3,523.3 L334.2,524.6 L339.0,525.8 L343.9,526.9 L348.8,528.0 L353.7,529.0 L358.6,529.8 L363.4,530.7 L368.3,531.4 L373.2,532.2 L378.1,532.9 L383.0,533.6 L387.8,534.2 L392.7,534.8 L397.6,535.4 L402.5,536.0 L407.3,536.5 L412.2,537.0 L417.1,537.5 L422.0,538.0 L426.9,538.4 L431.7,538.9 L436.6,539.3 L441.5,539.7 L446.4,540.1 L451.3,540.5 L456.1,540.8 L461.0,541.2 L465.9,541.5 L470.8,541.8 L475.7,542.1 L480.5,542.4 L485.4,542.7 L490.3,543.0 L495.2,543.3 L500.1,543.6 L504.9,543.9 L509.8,544.2 L514.7,544.4 L519.6,544.7 L524.5,544.9 L529.3,545.1 L534.2,545.3 L539.1,545.5 L544.0,545.7 L548.9,545.9 L553.7,546.1 L558.6,546.3 L563.5,546.4 L568.4,546.6 L573.3,546.8 L578.1,547.0 L583.0,547.1 L587.9,547.3 L592.8,547.5 L597.6,547.6 L602.5,547.8 L607.4,548.0 L612.3,548.1 L617.2,548.3 L622.0,548.5 L626.9,548.6 L631.8,548.8 L636.7,549.0 L641.6,549.1 L646.4,549.3 L651.3,549.4 L656.2,549.6 L661.1,549.7 L666.0,549.8 L670.8,549.9 L675.7,550.0 L680.6,550.1 L685.5,550.2 L690.4,550.3 L695.2,550.3 L700.1,550.4 L705.0,550.5 L709.9,550.6 L714.8,550.6 L719.6,550.7 L724.5,550.8 L729.4,550.8 L734.3,550.9 L739.2,551.0 L744.0,551.1 L748.9,551.2 L753.8,551.2 L758.7,551.3 L763.6,551.4 L768.4,551.5 L773.3,551.6 L778.2,551.7 L783.1,551.8 L787.9,551.9 L792.8,552.0 L797.7,552.1 L802.6,552.2 L807.5,552.3 L812.3,552.4 L817.2,552.5 L822.1,552.5 L827.0,552.6 L831.9,552.7 L836.7,552.7 L841.6,552.7 L846.5,552.8 L851.4,552.8 L856.3,552.8 L861.1,552.8 L866.0,552.9 L870.9,552.9 L875.8,552.9 L880.7,552.9 L885.5,552.9 L890.4,552.9 L895.3,553.0 L900.2,553.0 L905.1,553.0 L909.9,553.0 L914.8,553.0 L919.7,553.0 L924.6,553.0 L929.5,553.1 L934.3,553.1 L939.2,553.1 L944.1,553.1 L949.0,553.1 L953.9,553.1 L958.7,553.1 L963.6,553.1 L968.5,553.1 L973.4,553.1 L978.2,553.1" stroke="#ff0000" stroke-dasharray="4 4.815"/>
<path d="M53.1,27.5 L54.1,27.7 L55.1,28.1 L56.0,28.7 L57.0,29.3 L57.9,30.1 L58.9,30.9 L59.8,31.8 L60.8,33.0 L61.7,34.5 L62.7,36.0 L63.6,37.7 L64.6,39.4 L65.5,41.0 L66.5,42.7 L67.4,44.4 L68.4,46.3 L69.4,48.3 L70.3,50.6 L71.3,53.4 L72.2,56.6 L73.2,59.9 L74.1,63.2 L75.1,66.2 L76.0,69.2 L77.0,72.2 L77.9,75.6 L78.9,79.3 L79.8,83.5 L80.8,87.8 L81.7,92.0 L82.7,96.1 L83.6,100.2 L84.6,104.4 L85.6,108.5 L86.5,112.7 L87.5,117.0 L88.4,121.5 L89.4,126.0 L90.3,130.2 L91.3,134.1 L92.2,137.8 L93.2,141.8 L94.1,146.2 L95.1,151.0 L96.0,155.8 L97.0,160.5 L97.9,165.2 L98.9,169.8 L99.9,174.4 L100.8,179.0 L101.8,183.6 L102.7,188.2 L103.7,192.6 L104.6,196.8 L105.6,200.8 L106.5,204.8 L107.5,208.8 L108.4,212.9 L109.4,217.0 L110.3,221.0 L111.3,225.1 L112.2,229.2 L113.2,233.2 L114.1,237.3 L115.1,241.3 L116.1,245.4 L117.0,249.5 L118.0,253.7 L118.9,257.8 L119.9,261.7 L120.8,265.3 L121.8,268.8 L122.7,272.2 L123.7,275.5 L124.6,278.7 L125.6,281.9 L126.5,285.2 L127.5,288.4 L128.4,291.7 L129.4,295.1 L130.4,298.7 L131.3,302.4 L132.3,306.3 L133.2,310.2 L134.2,314.1 L135.1,317.8 L136.1,321.2 L137.0,324.2 L138.0,327.1 L138.9,330.3 L139.9,333.5 L140.8,336.6 L141.8,339.7 L142.7,342.6 L143.7,345.4 L144.6,348.0 L145.6,350.6 L146.6,353.1 L147.5,355.7 L148.5,358.4 L149.4,361.1 L150.4,363.8 L151.3,366.4 L152.3,369.1 L153.2,371.6 L154.2,374.2 L155.1,376.6 L156.1,378.9 L157.0,381.1 L158.0,383.2 L158.9,385.4 L159.9,387.6 L160.8,389.8 L161.8,392.0 L162.8,394.1 L163.7,396.1 L164.7,398.0 L165.6,400.0 L166.6,402.0 L167.5,403.9 L168.5,405.9 L169.4,407.8 L170.4,409.8 L171.3,411.7 L172.3,413.5 L173.2,415.4 L174.2,417.2 L175.1,418.9 L176.1,420.6 L177.1,422.3 L178.0,424.0 L179.0,425.6 L179.9,427.1 L180.9,428.7 L181.8,430.2 L182.8,431.7 L183.7,433.1 L184.7,434.4 L185.6,435.7 L186.6,437.0 L187.5,438.3 L188.5,439.7 L189.4,441.1 L190.4,442.5 L191.3,443.9 L192.3,445.2 L193.3,446.5 L194.2,447.9 L195.2,449.1 L196.1,450.4 L197.1,451.6 L198.0,452.9 L199.0,454.0 L199.9,455.2 L200.9,456.3 L201.8,457.4 L202.8,458.4 L203.7,459.5 L204.7,460.6 L205.6,461.7 L206.6,462.7 L207.6,463.8 L208.5,464.8 L209.5,465.8 L210.4,466.8 L211.4,467.8 L212.3,468.8 L213.3,469.8 L214.2,470.8 L215.2,471.7 L216.1,472.6 L217.1,473.5 L218.0,474.4 L219.0,475.2 L219.9,476.1 L220.9,476.9 L221.8,477.7 L222.8,478.6 L223.8,479.4 L224.7,480.2 L225.7,481.1 L226.6,481.9 L227.6,482.7 L228.5,483.4 L229.5,484.1 L230.4,484.8 L231.4,485.5 L232.3,486.1 L233.3,486.8 L234.2,487.4 L235.2,488.1 L236.1,488.7 L237.1,489.4 L238.0,490.0 L239.0,490.6 L240.0,491.2 L240.9,491.9 L241.9,492.5 L242.8,493.1 L243.8,493.7 L244.7,494.3 L245.7,494.9 L246.6,495.5 L247.6,496.0 L248.5,496.6 L249.5,497.2 L250.4,497.8 L251.4,498.3 L252.3,498.9 L253.3,499.4 L254.3,500.0 L255.2,500.5 L256.2,501.0 L257.1,501.6 L258.1,502.1 L259.0,502.6 L260.0,503.1 L260.9,503.6 L261.9,504.1 L262.8,504.6 L263.8,505.1 L264.7,505.5 L265.7,506.0 L266.6,506.5 L267.6,506.9 L268.5,507.4 L269.5,507.8 L270.5,508.2 L271.4,508.7 L272.4,509.1 L273.3,509.5 L274.3,509.9 L275.2,510.3 L276.2,510.7 L277.1,511.1 L278.1,511.5 L279.0,511.8 L280.0,512.2 L280.9,512.6 L281.9,512.9 L282.8,513.3 L283.8,513.6 L284.8,514.0 L285.7,514.3 L286.7,514.7 L287.6,515.0 L288.6,515.3 L289.5,515.7 L290.5,516.0 L291.4,516.4 L292.4,516.7 L293.3,517.0 L294.3,517.4 L295.2,517.7 L296.2,518.0 L297.1,518.3 L298.1,518.7 L299.0,519.0 L300.0,519.3 L304.9,520.9 L309.8,522.4 L314.6,523.9 L319.5,525.3 L324.4,526.7 L329.3,527.9 L334.2,529.1 L339.0,530.3 L343.9,531.3 L348.8,532.3 L353.7,533.1 L358.6,533.9 L363.4,534.6 L368.3,535.3 L373.2,535.9 L378.1,536.4 L383.0,537.0 L387.8,537.5 L392.7,538.0 L397.6,538.5 L402.5,538.9 L407.3,539.3 L412.2,539.8 L417.1,540.1 L422.0,540.5 L426.9,540.9 L431.7,541.2 L436.6,541.6 L441.5,542.0 L446.4,542.3 L451.3,542.6 L456.1,542.9 L461.0,543.2 L465.9,543.5 L470.8,543.8 L475.7,544.1 L480.5,544.3 L485.4,544.6 L490.3,544.9 L495.2,545.2 L500.1,545.4 L504.9,545.7 L509.8,546.0 L514.7,546.2 L519.6,546.4 L524.5,546.6 L529.3,546.8 L534.2,547.0 L539.1,547.2 L544.0,547.4 L548.9,547.5 L553.7,547.7 L558.6,547.9 L563.5,548.0 L568.4,548.2 L573.3,548.4 L578.1,548.5 L583.0,548.7 L587.9,548.8 L592.8,549.0 L597.6,549.1 L602.5,549.3 L607.4,549.4 L612.3,549.6 L617.2,549.7 L622.0,549.9 L626.9,550.0 L631.8,550.2 L636.7,550.3 L641.6,550.5 L646.4,550.6 L651.3,550.7 L656.2,550.9 L661.1,551.0 L666.0,551.1 L670.8,551.2 L675.7,551.3 L680.6,551.4 L685.5,551.5 L690.4,551.6 L695.2,551.7 L700.1,551.8 L705.0,551.9 L709.9,552.0 L714.8,552.1 L719.6,552.1 L724.5,552.2 L729.4,552.3 L734.3,552.3 L739.2,552.4 L744.0,552.4 L748.9,552.5 L753.8,552.6 L758.7,552.6 L763.6,552.7 L768.4,552.7 L773.3,552.8 L778.2,552.8 L783.1,552.8 L787.9,552.9 L792.8,552.9 L797.7,553.0 L802.6,553.0 L807.5,553.1 L812.3,553.1 L817.2,553.1 L822.1,553.2 L827.0,553.2 L831.9,553.2 L836.7,553.2 L841.6,553.3 L846.5,553.3 L851.4,553.3 L856.3,553.3 L861.1,553.3 L866.0,553.4 L870.9,553.4 L875.8,553.4 L880.7,553.4 L885.5,553.4 L890.4,553.4 L895.3,553.5 L900.2,553.5 L905.1,553.5 L909.9,553.5 L914.8,553.5 L919.7,553.5 L924.6,553.5 L929.5,553.5 L934.3,553.6 L939.2,553.6 L944.1,553.6 L949.0,553.6 L953.9,553.6 L958.7,553.6 L963.6,553.6 L968.5,553.6 L973.4,553.6 L978.2,553.6" stroke="#000000" stroke-dasharray="4 4.804"/>
</g>
<g stroke="#3f3f3f" fill="none">
<rect x="53.15" y="0.75" width="925.11" height="555.35" stroke-width="2"/>
<path d="M53.15,556.10 v-7.30 M53.15,0.75 v7.30 M83.99,556.10 v-4.60 M83.99,0.75 v4.60 M114.82,556.10 v-4.60 M114.82,0.75 v4.60 M145.66,556.10 v-4.60 M145.66,0.75 v4.60 M176.50,556.10 v-4.60 M176.50,0.75 v4.60 M207.34,556.10 v-7.30 M207.34,0.75 v7.30 M238.17,556.10 v-4.60 M238.17,0.75 v4.60 M269.01,556.10 v-4.60 M269.01,0.75 v4.60 M299.85,556.10 v-4.60 M299.85,0.75 v4.60 M330.68,556.10 v-4.60 M330.68,0.75 v4.60 M361.52,556.10 v-7.30 M361.52,0.75 v7.30 M392.36,556.10 v-4.60 M392.36,0.75 v4.60 M423.19,556.10 v-4.60 M423.19,0.75 v4.60 M454.03,556.10 v-4.60 M454.03,0.75 v4.60 M484.87,556.10 v-4.60 M484.87,0.75 v4.60 M515.70,556.10 v-7.30 M515.70,0.75 v7.30 M546.54,556.10 v-4.60 M546.54,0.75 v4.60 M577.38,556.10 v-4.60 M577.38,0.75 v4.60 M608.22,556.10 v-4.60 M608.22,0.75 v4.60 M639.05,556.10 v-4.60 M639.05,0.75 v4.60 M669.89,556.10 v-7.30 M669.89,0.75 v7.30 M700.73,556.10 v-4.60 M700.73,0.75 v4.60 M731.56,556.10 v-4.60 M731.56,0.75 v4.60 M762.40,556.10 v-4.60 M762.40,0.75 v4.60 M793.24,556.10 v-4.60 M793.24,0.75 v4.60 M824.07,556.10 v-7.30 M824.07,0.75 v7.30 M854.91,556.10 v-4.60 M854.91,0.75 v4.60 M885.75,556.10 v-4.60 M885.75,0.75 v4.60 M916.59,556.10 v-4.60 M916.59,0.75 v4.60 M947.42,556.10 v-4.60 M947.42,0.75 v4.60 M978.26,556.10 v-7.30 M978.26,0.75 v7.30 M53.15,556.10 h7.00 M978.26,556.10 h-7.00 M53.15,529.66 h4.00 M978.26,529.66 h-4.00 M53.15,503.23 h4.00 M978.26,503.23 h-4.00 M53.15,476.79 h4.00 M978.26,476.79 h-4.00 M53.15,450.36 h4.00 M978.26,450.36 h-4.00 M53.15,423.92 h7.00 M978.26,423.92 h-7.00 M53.15,397.48 h4.00 M978.26,397.48 h-4.00 M53.15,371.05 h4.00 M978.26,371.05 h-4.00 M53.15,344.61 h4.00 M978.26,344.61 h-4.00 M53.15,318.18 h4.00 M978.26,318.18 h-4.00 M53.15,291.74 h7.00 M978.26,291.74 h-7.00 M53.15,265.30 h4.00 M978.26,265.30 h-4.00 M53.15,238.87 h4.00 M978.26,238.87 h-4.00 M53.15,212.43 h4.00 M978.26,212.43 h-4.00 M53.15,186.00 h4.00 M978.26,186.00 h-4.00 M53.15,159.56 h7.00 M978.26,159.56 h-7.00 M53.15,133.12 h4.00 M978.26,133.12 h-4.00 M53.15,106.69 h4.00 M978.26,106.69 h-4.00 M53.15,80.25 h4.00 M978.26,80.25 h-4.00 M53.15,53.82 h4.00 M978.26,53.82 h-4.00 M53.15,27.38 h7.00 M978.26,27.38 h-7.00 M53.15,0.94 h4.00 M978.26,0.94 h-4.00" stroke-width="1.7"/>
</g>
<text x="53.05" y="584.00" font-size="21.80" fill="#404040" text-anchor="middle" stroke="#404040" stroke-width="0.6" textLength="45" lengthAdjust="spacingAndGlyphs">0.00</text>
<text x="207.24" y="584.00" font-size="21.80" fill="#404040" text-anchor="middle" stroke="#404040" stroke-width="0.6" textLength="45" lengthAdjust="spacingAndGlyphs">0.05</text>
<text x="361.42" y="584.00" font-size="21.80" fill="#404040" text-anchor="middle" stroke="#404040" stroke-width="0.6" textLength="45" lengthAdjust="spacingAndGlyphs">0.10</text>
<text x="515.61" y="584.00" font-size="21.80" fill="#404040" text-anchor="middle" stroke="#404040" stroke-width="0.6" textLength="45" lengthAdjust="spacingAndGlyphs">0.15</text>
<text x="669.79" y="584.00" font-size="21.80" fill="#404040" text-anchor="middle" stroke="#404040" stroke-width="0.6" textLength="45" lengthAdjust="spacingAndGlyphs">0.20</text>
<text x="823.97" y="584.00" font-size="21.80" fill="#404040" text-anchor="middle" stroke="#404040" stroke-width="0.6" textLength="45" lengthAdjust="spacingAndGlyphs">0.25</text>
<text x="978.16" y="584.00" font-size="21.80" fill="#404040" text-anchor="middle" stroke="#404040" stroke-width="0.6" textLength="45" lengthAdjust="spacingAndGlyphs">0.30</text>
<text x="48.40" y="564.00" font-size="21.80" fill="#404040" text-anchor="end" stroke="#404040" stroke-width="0.6" textLength="12.8" lengthAdjust="spacingAndGlyphs">0</text>
<text x="48.40" y="431.82" font-size="21.80" fill="#404040" text-anchor="end" stroke="#404040" stroke-width="0.6" textLength="12.8" lengthAdjust="spacingAndGlyphs">1</text>
<text x="48.40" y="299.64" font-size="21.80" fill="#404040" text-anchor="end" stroke="#404040" stroke-width="0.6" textLength="12.8" lengthAdjust="spacingAndGlyphs">2</text>
<text x="48.40" y="167.46" font-size="21.80" fill="#404040" text-anchor="end" stroke="#404040" stroke-width="0.6" textLength="12.8" lengthAdjust="spacingAndGlyphs">3</text>
<text x="48.40" y="35.28" font-size="21.80" fill="#404040" text-anchor="end" stroke="#404040" stroke-width="0.6" textLength="12.8" lengthAdjust="spacingAndGlyphs">4</text>
<text y="622.6" font-size="21" fill="#404040"><tspan x="487.6" font-weight="bold" textLength="12" lengthAdjust="spacingAndGlyphs">z</tspan> <tspan x="507.0" stroke="#404040" stroke-width="0.6" textLength="36.5" lengthAdjust="spacingAndGlyphs">(pc)</tspan></text>
<text transform="translate(20,358.80) rotate(-90)" fill="#404040" stroke="#404040" stroke-width="0.6"><tspan x="0.00" y="0.00" font-size="21.00" font-style="italic">ρ</tspan> <tspan x="17.60" y="0.00" font-size="21.00">(</tspan><tspan x="26.30" y="0.00" font-size="21.80" textLength="23.5" lengthAdjust="spacingAndGlyphs">10</tspan><tspan x="51.30" y="-8.00" font-size="15.00" textLength="26.5" lengthAdjust="spacingAndGlyphs">−18</tspan> <tspan x="87.40" y="0.00" font-size="22.00" textLength="14.2" lengthAdjust="spacingAndGlyphs">g</tspan> <tspan x="105.30" y="0.00" font-size="21.00" textLength="26.5" lengthAdjust="spacingAndGlyphs">cm</tspan><tspan x="133.20" y="-8.00" font-size="15.00" textLength="16.5" lengthAdjust="spacingAndGlyphs">−3</tspan><tspan x="153.40" y="0.00" font-size="21.00">)</tspan></text>
<path d="M175.50,53.70 H270.00" stroke="#0000ff" stroke-width="1.95" fill="none"/>
<text y="65.80" font-size="32.00" fill="#000"><tspan x="300.00" stroke="#000" stroke-width="1.5" stroke-linejoin="round" textLength="9.0" lengthAdjust="spacingAndGlyphs">t</tspan> <tspan x="319.90" font-size="23" stroke="#000" stroke-width="1.25" stroke-linejoin="round" textLength="16.2" lengthAdjust="spacingAndGlyphs">=</tspan> <tspan x="346.60" stroke="#000" stroke-width="1.1" stroke-linejoin="round" textLength="45.8" lengthAdjust="spacingAndGlyphs">3.5</tspan> <tspan x="405.70" stroke="#000" stroke-width="1.0" stroke-linejoin="round" textLength="72.4" lengthAdjust="spacingAndGlyphs">Myrs</tspan></text>
<path d="M175.50,106.60 H270.00" stroke="#00ff00" stroke-width="1.95" fill="none"/>
<text y="118.70" font-size="32.00" fill="#000"><tspan x="300.00" stroke="#000" stroke-width="1.5" stroke-linejoin="round" textLength="9.0" lengthAdjust="spacingAndGlyphs">t</tspan> <tspan x="319.90" font-size="23" stroke="#000" stroke-width="1.25" stroke-linejoin="round" textLength="16.2" lengthAdjust="spacingAndGlyphs">=</tspan> <tspan x="346.60" stroke="#000" stroke-width="1.1" stroke-linejoin="round" textLength="45.8" lengthAdjust="spacingAndGlyphs">7.0</tspan> <tspan x="405.70" stroke="#000" stroke-width="1.0" stroke-linejoin="round" textLength="72.4" lengthAdjust="spacingAndGlyphs">Myrs</tspan></text>
<path d="M175.50,159.50 H270.00" stroke="#ff0000" stroke-width="1.95" fill="none"/>
<text y="171.60" font-size="32.00" fill="#000"><tspan x="300.00" stroke="#000" stroke-width="1.5" stroke-linejoin="round" textLength="9.0" lengthAdjust="spacingAndGlyphs">t</tspan> <tspan x="319.90" font-size="23" stroke="#000" stroke-width="1.25" stroke-linejoin="round" textLength="16.2" lengthAdjust="spacingAndGlyphs">=</tspan> <tspan x="347.10" stroke="#000" stroke-width="1.1" stroke-linejoin="round" textLength="32.9" lengthAdjust="spacingAndGlyphs">21</tspan> <tspan x="395.50" stroke="#000" stroke-width="1.0" stroke-linejoin="round" textLength="72.4" lengthAdjust="spacingAndGlyphs">Myrs</tspan></text>
<path d="M175.50,212.40 H270.00" stroke="#000000" stroke-width="1.95" fill="none"/>
<text y="224.50" font-size="32.00" fill="#000"><tspan x="300.00" stroke="#000" stroke-width="1.5" stroke-linejoin="round" textLength="9.0" lengthAdjust="spacingAndGlyphs">t</tspan> <tspan x="319.90" font-size="23" stroke="#000" stroke-width="1.25" stroke-linejoin="round" textLength="16.2" lengthAdjust="spacingAndGlyphs">=</tspan> <tspan x="346.90" dy="0.2" font-size="27" stroke="#000" stroke-width="0.8" stroke-linejoin="round" textLength="24" lengthAdjust="spacingAndGlyphs">∞</tspan></text>
<path d="M576.00,53.70 H669.50" stroke="#0000ff" stroke-width="1.95" fill="none" stroke-dasharray="9.5 4.5"/>
<text y="65.80" font-size="32.00" fill="#000"><tspan x="701.20" stroke="#000" stroke-width="1.5" stroke-linejoin="round" textLength="9.0" lengthAdjust="spacingAndGlyphs">t</tspan> <tspan x="721.10" font-size="23" stroke="#000" stroke-width="1.25" stroke-linejoin="round" textLength="16.2" lengthAdjust="spacingAndGlyphs">=</tspan> <tspan x="747.80" stroke="#000" stroke-width="1.1" stroke-linejoin="round" textLength="18.3" lengthAdjust="spacingAndGlyphs">4</tspan> <tspan x="777.30" stroke="#000" stroke-width="1.0" stroke-linejoin="round" textLength="72.4" lengthAdjust="spacingAndGlyphs">Myrs</tspan></text>
<path d="M576.00,106.60 H669.50" stroke="#00ff00" stroke-width="1.95" fill="none" stroke-dasharray="9.5 4.5"/>
<text y="118.70" font-size="32.00" fill="#000"><tspan x="701.20" stroke="#000" stroke-width="1.5" stroke-linejoin="round" textLength="9.0" lengthAdjust="spacingAndGlyphs">t</tspan> <tspan x="721.10" font-size="23" stroke="#000" stroke-width="1.25" stroke-linejoin="round" textLength="16.2" lengthAdjust="spacingAndGlyphs">=</tspan> <tspan x="747.80" stroke="#000" stroke-width="1.1" stroke-linejoin="round" textLength="18.3" lengthAdjust="spacingAndGlyphs">8</tspan> <tspan x="777.30" stroke="#000" stroke-width="1.0" stroke-linejoin="round" textLength="72.4" lengthAdjust="spacingAndGlyphs">Myrs</tspan></text>
<path d="M576.00,159.50 H669.50" stroke="#ff0000" stroke-width="1.95" fill="none" stroke-dasharray="9.5 4.5"/>
<text y="171.60" font-size="32.00" fill="#000"><tspan x="701.20" stroke="#000" stroke-width="1.5" stroke-linejoin="round" textLength="9.0" lengthAdjust="spacingAndGlyphs">t</tspan> <tspan x="721.10" font-size="23" stroke="#000" stroke-width="1.25" stroke-linejoin="round" textLength="16.2" lengthAdjust="spacingAndGlyphs">=</tspan> <tspan x="747.80" stroke="#000" stroke-width="1.1" stroke-linejoin="round" textLength="39.5" lengthAdjust="spacingAndGlyphs">24</tspan> <tspan x="797.10" stroke="#000" stroke-width="1.0" stroke-linejoin="round" textLength="72.4" lengthAdjust="spacingAndGlyphs">Myrs</tspan></text>
<path d="M576.00,212.40 H669.50" stroke="#000000" stroke-width="1.95" fill="none" stroke-dasharray="9.5 4.5"/>
<text y="224.50" font-size="32.00" fill="#000"><tspan x="701.20" stroke="#000" stroke-width="1.5" stroke-linejoin="round" textLength="9.0" lengthAdjust="spacingAndGlyphs">t</tspan> <tspan x="721.10" font-size="23" stroke="#000" stroke-width="1.25" stroke-linejoin="round" textLength="16.2" lengthAdjust="spacingAndGlyphs">=</tspan> <tspan x="748.10" dy="0.2" font-size="27" stroke="#000" stroke-width="0.8" stroke-linejoin="round" textLength="24" lengthAdjust="spacingAndGlyphs">∞</tspan></text>
<path d="M576.40,318.20 H667.40" stroke="#0000ff" stroke-width="1.95" fill="none" stroke-dasharray="4 4.74"/>
<text y="330.30" font-size="32.00" fill="#000"><tspan x="701.20" stroke="#000" stroke-width="1.5" stroke-linejoin="round" textLength="9.0" lengthAdjust="spacingAndGlyphs">t</tspan> <tspan x="721.10" font-size="23" stroke="#000" stroke-width="1.25" stroke-linejoin="round" textLength="16.2" lengthAdjust="spacingAndGlyphs">=</tspan> <tspan x="747.00" stroke="#000" stroke-width="1.1" stroke-linejoin="round" textLength="47.8" lengthAdjust="spacingAndGlyphs">2.5</tspan> <tspan x="807.30" stroke="#000" stroke-width="1.0" stroke-linejoin="round" textLength="72.4" lengthAdjust="spacingAndGlyphs">Myrs</tspan></text>
<path d="M576.40,371.10 H667.40" stroke="#00ff00" stroke-width="1.95" fill="none" stroke-dasharray="4 4.74"/>
<text y="383.20" font-size="32.00" fill="#000"><tspan x="701.20" stroke="#000" stroke-width="1.5" stroke-linejoin="round" textLength="9.0" lengthAdjust="spacingAndGlyphs">t</tspan> <tspan x="721.10" font-size="23" stroke="#000" stroke-width="1.25" stroke-linejoin="round" textLength="16.2" lengthAdjust="spacingAndGlyphs">=</tspan> <tspan x="747.00" stroke="#000" stroke-width="1.1" stroke-linejoin="round" textLength="47.8" lengthAdjust="spacingAndGlyphs">5.0</tspan> <tspan x="807.30" stroke="#000" stroke-width="1.0" stroke-linejoin="round" textLength="72.4" lengthAdjust="spacingAndGlyphs">Myrs</tspan></text>
<path d="M576.40,424.00 H667.40" stroke="#ff0000" stroke-width="1.95" fill="none" stroke-dasharray="4 4.74"/>
<text y="436.10" font-size="32.00" fill="#000"><tspan x="701.20" stroke="#000" stroke-width="1.5" stroke-linejoin="round" textLength="9.0" lengthAdjust="spacingAndGlyphs">t</tspan> <tspan x="721.10" font-size="23" stroke="#000" stroke-width="1.25" stroke-linejoin="round" textLength="16.2" lengthAdjust="spacingAndGlyphs">=</tspan> <tspan x="748.10" stroke="#000" stroke-width="1.1" stroke-linejoin="round" textLength="37.0" lengthAdjust="spacingAndGlyphs">15</tspan> <tspan x="797.10" stroke="#000" stroke-width="1.0" stroke-linejoin="round" textLength="72.4" lengthAdjust="spacingAndGlyphs">Myrs</tspan></text>
<path d="M576.40,476.90 H667.40" stroke="#000000" stroke-width="1.95" fill="none" stroke-dasharray="4 4.74"/>
<text y="489.00" font-size="32.00" fill="#000"><tspan x="701.20" stroke="#000" stroke-width="1.5" stroke-linejoin="round" textLength="9.0" lengthAdjust="spacingAndGlyphs">t</tspan> <tspan x="721.10" font-size="23" stroke="#000" stroke-width="1.25" stroke-linejoin="round" textLength="16.2" lengthAdjust="spacingAndGlyphs">=</tspan> <tspan x="748.10" dy="0.2" font-size="27" stroke="#000" stroke-width="0.8" stroke-linejoin="round" textLength="24" lengthAdjust="spacingAndGlyphs">∞</tspan></text>
</svg></body></html>
